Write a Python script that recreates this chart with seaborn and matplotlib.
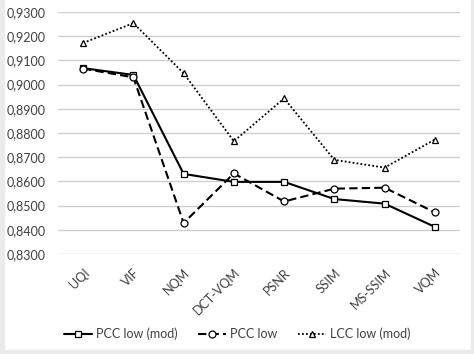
import matplotlib
matplotlib.use("Agg")
import matplotlib.pyplot as plt
import matplotlib.ticker as mticker
from matplotlib.patches import Rectangle
import seaborn as sns
import pandas as pd

categories = ["UQI", "VIF", "NQM", "DCT-VQM", "PSNR", "SSIM", "MS-SSIM", "VQM"]
pcc_low_mod = [0.9068, 0.9040, 0.8631, 0.8598, 0.8598, 0.8527, 0.8508, 0.8412]
pcc_low = [0.9066, 0.9030, 0.8428, 0.8633, 0.8517, 0.8570, 0.8574, 0.8472]
lcc_low_mod = [0.9172, 0.9254, 0.9047, 0.8766, 0.8943, 0.8689, 0.8657, 0.8773]
series_names = ["PCC low (mod)", "PCC low", "LCC low (mod)"]

sns.set_theme(style="white")
plt.rcParams["font.family"] = ["Lato", "DejaVu Sans"]

rows = []
for name, vals in zip(series_names, [pcc_low_mod, pcc_low, lcc_low_mod]):
    for c, v in zip(categories, vals):
        rows.append({"cat": c, "val": v, "series": name})
df = pd.DataFrame(rows)
df["x"] = df["cat"].map({c: i for i, c in enumerate(categories)})

fig = plt.figure(figsize=(4.74, 3.54), dpi=100)
fig.patch.set_facecolor("white")
ax = fig.add_axes([58 / 474, 1 - 254 / 354, 402 / 474, 242 / 354])

styles = {
    "PCC low (mod)": dict(ls="-", marker="s", lw=1.5),
    "PCC low": dict(ls=(0, (4, 2)), marker="o", lw=1.5),
    "LCC low (mod)": dict(ls=(0, (1, 1.2)), marker="^", lw=1.3),
}
for name in series_names:
    sub = df[df["series"] == name]
    st = styles[name]
    sns.lineplot(data=sub, x="x", y="val", ax=ax, color="black",
                 linestyle=st["ls"], linewidth=st["lw"], marker=st["marker"],
                 markersize=5, markerfacecolor="white", markeredgecolor="black",
                 markeredgewidth=0.9, label=name, legend=False)

ax.set_xlim(-0.5, len(categories) - 0.5)
ax.set_ylim(0.83, 0.93)
ax.yaxis.set_major_locator(mticker.MultipleLocator(0.01))
ax.yaxis.set_major_formatter(mticker.FuncFormatter(lambda v, p: f"{v:.4f}".replace(".", ",")))
ax.grid(axis="y", color="#d0d0d0", lw=1)
ax.set_axisbelow(True)
for s in ax.spines.values():
    s.set_visible(False)
ax.set_xticks(range(len(categories)))
ax.set_xticklabels(categories, rotation=45, ha="right", rotation_mode="anchor")
ax.tick_params(axis="both", length=0, labelsize=9, colors="#404040")
ax.tick_params(axis="y", pad=9)
ax.tick_params(axis="x", pad=9)
ax.set_xlabel("")
ax.set_ylabel("")

handles, labels = ax.get_legend_handles_labels()
fig.legend(handles, labels, loc="center", bbox_to_anchor=(0.5, 1 - 334 / 354),
           ncol=3, frameon=False, fontsize=9, handlelength=2.3, columnspacing=1.6,
           handletextpad=0.3, labelcolor="#404040")

# light grey frame at edges
fig.patches.append(Rectangle((0, 0), 4 / 474, 1, transform=fig.transFigure, color="#ebebeb", zorder=-1))
fig.patches.append(Rectangle((471 / 474, 0), 3 / 474, 1, transform=fig.transFigure, color="#ebebeb", zorder=-1))
fig.patches.append(Rectangle((0, 0), 1, 4 / 354, transform=fig.transFigure, color="#ebebeb", zorder=-1))

fig.savefig("out.png", dpi=100)
